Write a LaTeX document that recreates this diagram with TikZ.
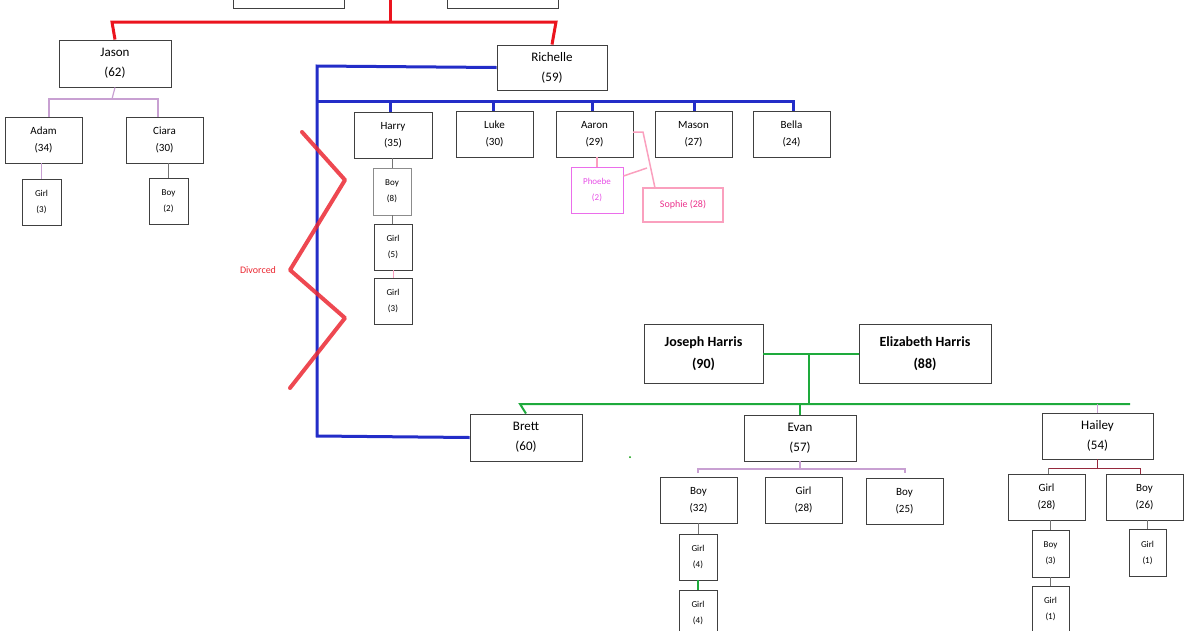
\documentclass[tikz,border=0pt]{standalone}
\usepackage{fontspec}
\setmainfont{Carlito}
\begin{document}
\begin{tikzpicture}[x=1pt,y=-1pt,
 bx/.style={draw=black!75,line width=0.9pt,align=center,inner sep=0pt,font=\fontsize{13}{20}\selectfont},
 sm/.style={draw=black!75,line width=0.9pt,align=center,inner sep=0pt,font=\fontsize{9}{16}\selectfont},
 red/.style={draw={rgb,255:red,235;green,20;blue,30},line width=3pt},
 blu/.style={draw={rgb,255:red,35;green,45;blue,200},line width=3pt},
 grn/.style={draw={rgb,255:red,30;green,170;blue,60},line width=2pt},
 pur/.style={draw={rgb,255:red,200;green,160;blue,210},line width=1.2pt},
 thin/.style={draw=black!55,line width=0.6pt},
 pnk/.style={draw={rgb,255:red,250;green,160;blue,190},line width=1.5pt}]
\useasboundingbox (0,0) rectangle (1200,630);
\newcommand{\bxat}[5]{\node[#1,minimum width=#4-#2,minimum height=14,anchor=north west] at (#2,#3) {};}
\def\B#1#2#3#4#5#6#7{\node[#7,minimum width=#4-#2,minimum height=#5-#3] (#1) at ({(#2+#4)/2},{(#3+#5)/2}) {#6};}
\B{t1}{233}{-10}{344}{8}{}{bx}
\B{t2}{447}{-10}{558}{8}{}{bx}
\B{jason}{59}{40}{171}{87}{Jason\\(62)}{bx}
\B{rich}{497}{45}{607}{90}{Richelle\\(59)}{bx}
\B{adam}{5}{117}{82}{163}{Adam\\(34)}{bx,font=\fontsize{11}{17}\selectfont}
\B{ciara}{126}{117}{203}{163}{Ciara\\(30)}{bx,font=\fontsize{11}{17}\selectfont}
\B{g3}{22}{179}{61}{225}{Girl\\(3)}{sm}
\B{b2}{149}{178}{188}{224}{Boy\\(2)}{sm}
\B{harry}{354}{112}{432}{158}{Harry\\(35)}{bx,font=\fontsize{11}{17}\selectfont}
\B{luke}{456}{111}{533}{157}{Luke\\(30)}{bx,font=\fontsize{11}{17}\selectfont}
\B{aaron}{556}{111}{633}{157}{Aaron\\(29)}{bx,font=\fontsize{11}{17}\selectfont}
\B{mason}{655}{111}{732}{157}{Mason\\(27)}{bx,font=\fontsize{11}{17}\selectfont}
\B{bella}{753}{111}{830}{157}{Bella\\(24)}{bx,font=\fontsize{11}{17}\selectfont}
\B{hb8}{373}{168}{411}{215}{Boy\\(8)}{sm,draw=black!45}
\B{hg5}{374}{224}{412}{270}{Girl\\(5)}{sm}
\B{hg3}{374}{278}{412}{324}{Girl\\(3)}{sm}
\B{phoebe}{571}{167}{623}{213}{Phoebe\\(2)}{sm,draw={rgb,255:red,235;green,110;blue,235},text={rgb,255:red,230;green,80;blue,230}}
\B{sophie}{643}{188}{723}{222}{Sophie (28)}{sm,font=\fontsize{10}{14}\selectfont,draw={rgb,255:red,250;green,160;blue,190},line width=1.8pt,text={rgb,255:red,235;green,50;blue,140}}
\B{joseph}{644}{324}{763}{383}{\textbf{Joseph Harris}\\\textbf{(90)}}{bx,font=\fontsize{14}{22}\selectfont}
\B{eliz}{859}{324}{991}{383}{\textbf{Elizabeth Harris}\\\textbf{(88)}}{bx,font=\fontsize{14}{22}\selectfont}
\B{brett}{470}{414}{582}{461}{Brett\\(60)}{bx}
\B{evan}{744}{415}{856}{461}{Evan\\(57)}{bx}
\B{hailey}{1042}{413}{1153}{459}{Hailey\\(54)}{bx}
\B{eb32}{660}{477}{737}{523}{Boy\\(32)}{bx,font=\fontsize{11}{17}\selectfont}
\B{eg28}{765}{477}{842}{523}{Girl\\(28)}{bx,font=\fontsize{11}{17}\selectfont}
\B{eb25}{866}{478}{943}{524}{Boy\\(25)}{bx,font=\fontsize{11}{17}\selectfont}
\B{eg4a}{679}{534}{717}{580}{Girl\\(4)}{sm}
\B{eg4b}{679}{590}{717}{636}{Girl\\(4)}{sm}
\B{hg28}{1008}{474}{1085}{520}{Girl\\(28)}{bx,font=\fontsize{11}{17}\selectfont}
\B{hb26}{1106}{474}{1183}{520}{Boy\\(26)}{bx,font=\fontsize{11}{17}\selectfont}
\B{hb3}{1032}{530}{1069}{577}{Boy\\(3)}{sm}
\B{hg1}{1032}{586}{1069}{632}{Girl\\(1)}{sm}
\B{hg1b}{1129}{529}{1166}{576}{Girl\\(1)}{sm}
% red
\draw[red] (390,-2) -- (390,22);
\draw[red] (jason.north) -- (112,22) -- (556,22) -- (rich.north);
% blue
\draw[blu] (rich.west) -- (317,66) -- (317,436) -- (brett.west);
\draw[blu] (317,101) -- (795,101);
\foreach \x/\n in {390/harry,493/luke,592/aaron,694/mason,793/bella} \draw[blu] (\x,101) -- (\n.north -| \x,0);
% jason kids
\draw[pur] (jason.south) -- (112,99);
\draw[pur] (adam.north -| 49,0) -- (49,99) -- (158,99) -- (ciara.north -| 158,0);
\draw[pur] (adam.south -| g3.north) -- (g3.north);
\draw[thin] (ciara.south -| b2.north) -- (b2.north);
% harry kids
\draw[thin] (harry.south -| hb8.north) -- (hb8.north);
\draw[thin] (hb8.south) -- (hg5.north -| hb8.south);
\draw[pnk,line width=0.8pt] (hg5.south) -- (hg3.north);
% aaron
\draw[pnk] (aaron.south -| phoebe.north) -- (phoebe.north);
\draw[pnk] (633,132) -- (643,132) -- (655,188);
\draw[pnk] (phoebe.east |- 0,176) -- (647,168);
% divorced
\draw[draw={rgb,255:red,235;green,40;blue,50},line width=4pt,opacity=0.85,line join=round,line cap=round]
 (302,132) -- (345,180) -- (290,270) -- (345,318) -- (290,388);
\node[text={rgb,255:red,235;green,40;blue,50},font=\fontsize{10}{12}\selectfont] (div) at (258,270) {Divorced};
% green
\draw[grn] (joseph.east |- 0,354) -- (eliz.west |- 0,354);
\draw[grn] (809,354) -- (809,404);
\draw[grn] (brett.north) -- (520,404) -- (1130,404);
\draw[grn] (800,404) -- (evan.north -| 800,0);
\draw[pur,line width=0.8pt] (1097,404) -- (hailey.north -| 1097,0);
\fill[green!60!black] (630,457) circle (1);
% evan kids
\draw[pur] (evan.south -| 800,0) -- (800,469);
\draw[pur] (698,473) -- (698,469) -- (905,469) -- (905,473);
\draw[thin] (698,523) -- (eg4a.north -| 698,0);
\draw[grn] (eg4a.south) -- (eg4b.north);
% hailey kids
\draw[draw={rgb,255:red,150;green,40;blue,60},line width=1pt] (hailey.south -| 1097,0) -- (1097,468);
\draw[draw={rgb,255:red,150;green,40;blue,60},line width=1pt] (1048,468) -- (1140,468);
\draw[thin] (1048,468) -- (hg28.north -| 1048,0);
\draw[draw={rgb,255:red,150;green,40;blue,60},line width=1pt] (1140,468) -- (hb26.north -| 1140,0);
\draw[thin] (hg28.south -| hb3.north) -- (hb3.north);
\draw[thin] (hb3.south) -- (hg1.north);
\draw[thin] (hb26.south -| hg1b.north) -- (hg1b.north);
\end{tikzpicture}
\end{document}
